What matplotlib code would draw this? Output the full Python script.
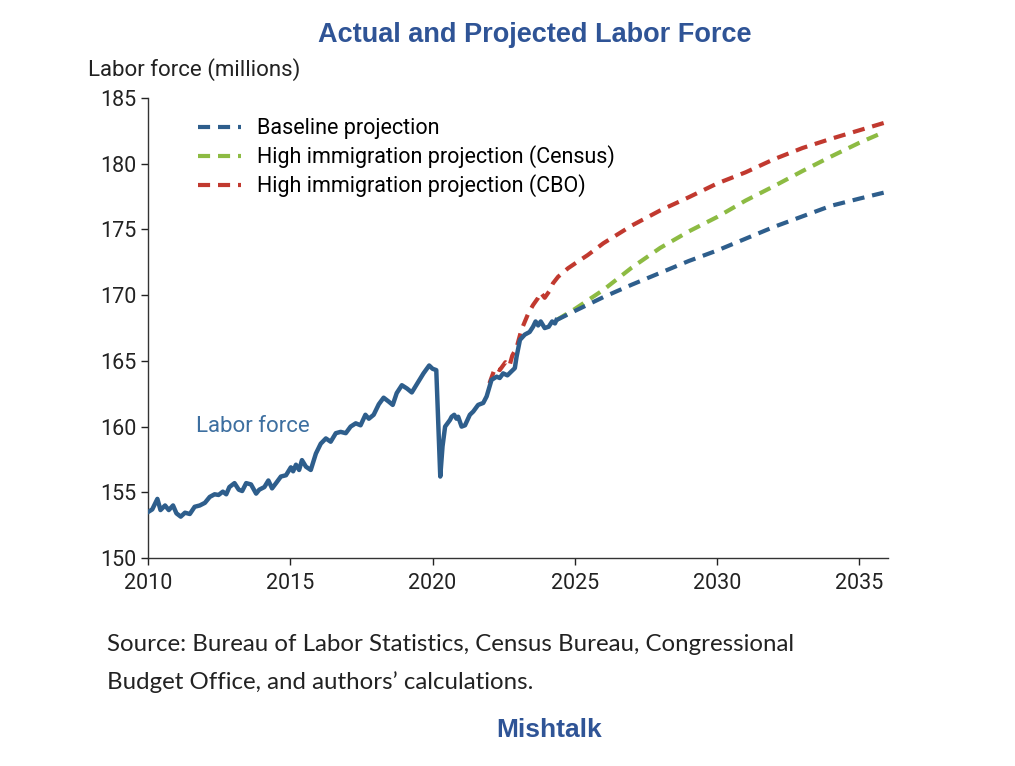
import matplotlib
matplotlib.use('Agg')
import matplotlib.pyplot as plt

# Actual labor force (decimal year, millions)
actual_years = [2010.00, 2010.15, 2010.33, 2010.44, 2010.60, 2010.73, 2010.88, 2011.00, 2011.15, 2011.30,
                2011.47, 2011.64, 2011.82, 2012.00, 2012.17, 2012.34, 2012.48, 2012.63, 2012.75, 2012.86,
                2013.04, 2013.19, 2013.31, 2013.45, 2013.62, 2013.80, 2013.91, 2014.09, 2014.23, 2014.36,
                2014.50, 2014.67, 2014.85, 2015.02, 2015.10, 2015.20, 2015.31, 2015.41, 2015.55, 2015.72,
                2015.90, 2016.07, 2016.25, 2016.42, 2016.60, 2016.77, 2016.95, 2017.12, 2017.30, 2017.47,
                2017.64, 2017.76, 2017.93, 2018.11, 2018.28, 2018.46, 2018.60, 2018.74, 2018.92, 2019.10,
                2019.27, 2019.51, 2019.68, 2019.88, 2020.00, 2020.13, 2020.27, 2020.35, 2020.44, 2020.61,
                2020.67, 2020.76, 2020.84, 2020.90, 2021.02, 2021.14, 2021.31, 2021.43, 2021.60, 2021.78,
                2021.90, 2022.07, 2022.25, 2022.36, 2022.48, 2022.63, 2022.77, 2022.89, 2022.95, 2023.07,
                2023.24, 2023.41, 2023.53, 2023.62, 2023.71, 2023.80, 2023.94, 2024.08, 2024.20, 2024.30,
                2024.35]
actual_values = [153.5, 153.7, 154.5, 153.65, 154.0, 153.65, 154.0, 153.4, 153.15, 153.45,
                 153.35, 153.9, 154.0, 154.2, 154.65, 154.85, 154.8, 155.05, 154.85, 155.4,
                 155.7, 155.2, 155.1, 155.7, 155.6, 154.9, 155.2, 155.4, 155.9, 155.3,
                 155.7, 156.2, 156.3, 156.9, 156.6, 157.1, 156.7, 157.45, 156.95, 156.7,
                 157.95, 158.7, 159.1, 158.85, 159.5, 159.6, 159.5, 160.0, 160.25, 160.1,
                 160.9, 160.6, 160.9, 161.7, 162.2, 161.9, 161.65, 162.55, 163.15, 162.9,
                 162.6, 163.45, 164.05, 164.65, 164.4, 164.3, 156.2, 158.5, 160.0, 160.5,
                 160.75, 160.9, 160.6, 160.75, 160.0, 160.1, 160.9, 161.15, 161.65, 161.8,
                 162.3, 163.55, 163.8, 163.7, 164.05, 163.9, 164.2, 164.45, 165.3, 166.6,
                 167.0, 167.2, 167.6, 168.0, 167.7, 168.0, 167.5, 167.6, 168.0, 167.85,
                 168.1]

# Projections
proj_years = [2024.35, 2025, 2026, 2027, 2028, 2029, 2030, 2031, 2032, 2033, 2034, 2035, 2035.85]
baseline = [168.1, 168.8, 169.85, 170.8, 171.7, 172.6, 173.4, 174.3, 175.2, 176.0, 176.8, 177.35, 177.8]
census = [168.1, 168.95, 170.4, 172.1, 173.6, 174.85, 175.95, 177.2, 178.3, 179.45, 180.55, 181.6, 182.4]

cbo_years = [2022.0, 2022.2, 2022.36, 2022.56, 2022.7, 2022.8, 2022.95, 2023.12, 2023.36, 2023.53,
             2023.71, 2023.8, 2023.94, 2024.1, 2024.23, 2024.41, 2024.76, 2025.1, 2025.45, 2026,
             2027, 2028, 2029, 2030, 2031, 2032, 2033, 2034, 2035, 2035.85]
cbo = [163.3, 164.5, 164.3, 164.9, 164.6, 165.4, 166.0, 167.35, 168.6, 169.25,
       169.8, 170.2, 169.8, 170.3, 170.9, 171.4, 172.05, 172.55, 173.05, 173.95,
       175.3, 176.45, 177.45, 178.5, 179.35, 180.35, 181.2, 181.9, 182.55, 183.1]

blue = '#2E5E8C'
green = '#8DBB43'
red = '#C1392F'
title_blue = '#2F5496'

fig = plt.figure(figsize=(10.15, 7.66), dpi=100)
ax = fig.add_axes([0.1458, 0.2715, 0.729, 0.6005])

dash = (0, (2.9, 1.9))
ax.plot(cbo_years, cbo, color=red, lw=3.0, linestyle=dash, label='High immigration projection (CBO)', zorder=2)
ax.plot(proj_years, census, color=green, lw=3.0, linestyle=dash, label='High immigration projection (Census)', zorder=2)
ax.plot(proj_years, baseline, color=blue, lw=3.0, linestyle=dash, label='Baseline projection', zorder=3)
ax.plot(actual_years, actual_values, color=blue, lw=3.2, zorder=4)

ax.set_xlim(2010, 2036)
ax.set_ylim(150, 185)
ax.set_xticks(range(2010, 2036, 5))
ax.set_yticks(range(150, 186, 5))
ax.spines['top'].set_visible(False)
ax.spines['right'].set_visible(False)
for s in ('left', 'bottom'):
    ax.spines[s].set_color('#333333')
    ax.spines[s].set_linewidth(1.0)
ax.tick_params(axis='both', labelsize=15.5, colors='#222222', length=5, width=1, direction='out')
ax.tick_params(axis='x', pad=6)
for lbl in ax.get_xticklabels() + ax.get_yticklabels():
    lbl.set_family('Roboto')

handles, labels = ax.get_legend_handles_labels()
leg = ax.legend(handles[::-1], labels[::-1], loc='upper left', bbox_to_anchor=(0.041, 0.998),
                frameon=False, handlelength=2.0, handletextpad=0.75, labelspacing=0.28,
                prop={'family': 'Roboto', 'size': 15.5})

ax.text(2011.7, 160, 'Labor force', color='#3D6FA0', fontsize=16, family='Roboto', va='center')

fig.text(0.527, 0.954, 'Actual and Projected Labor Force', ha='center', va='center',
         fontsize=19.5, fontweight='bold', color=title_blue, family='Liberation Sans')
fig.text(0.087, 0.909, 'Labor force (millions)', ha='left', va='center', fontsize=16,
         family='Roboto', color='#222222')
fig.text(0.105, 0.159, 'Source: Bureau of Labor Statistics, Census Bureau, Congressional',
         ha='left', va='center', fontsize=17.3, family='Lato', color='#222222')
fig.text(0.105, 0.109, 'Budget Office, and authors\u2019 calculations.',
         ha='left', va='center', fontsize=17.3, family='Lato', color='#222222')
fig.text(0.541, 0.047, 'Mishtalk', ha='center', va='center', fontsize=19,
         fontweight='bold', color=title_blue, family='Liberation Sans')

plt.savefig('out.png', dpi=100)
